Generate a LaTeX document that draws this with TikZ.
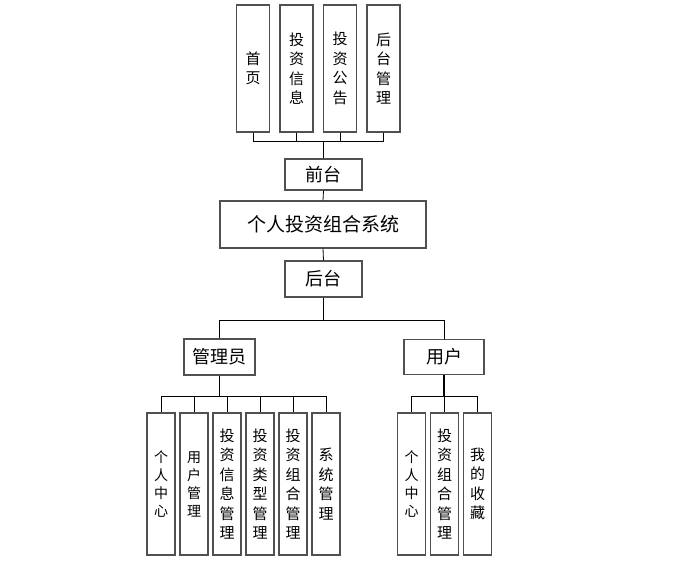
\documentclass[tikz,border=0pt]{standalone}
\usepackage{fontspec}
\newfontfamily\cjk{Noto Sans CJK SC}

\definecolor{BoxLine}{HTML}{505050}
\definecolor{Wire}{HTML}{000000}

\tikzstyle{box}=[draw=BoxLine, line width=1.1pt, inner sep=0pt, align=center]
\tikzstyle{vbox}=[box, font=\cjk\fontsize{15pt}{19.5pt}\selectfont]
\tikzstyle{vbox-small}=[box, font=\cjk\fontsize{14pt}{18pt}\selectfont]
\tikzstyle{hbox}=[box, font=\cjk\fontsize{18pt}{20pt}\selectfont]
\tikzstyle{wire}=[draw=Wire, line width=0.8pt]

\begin{document}
\begin{tikzpicture}[x=1pt, y=-1pt]
      \useasboundingbox (0,0) rectangle (680,564);

      % front end pages
      \node (nav-1) at (253,68.5) [vbox, minimum width=33pt, minimum height=127pt] {首\\页};
      \node (nav-2) at (296.5,68.5) [vbox, minimum width=33pt, minimum height=127pt] {投\\资\\信\\息};
      \node (nav-3) at (340,68.5) [vbox, minimum width=33pt, minimum height=127pt] {投\\资\\公\\告};
      \node (nav-4) at (383.5,68.5) [vbox, minimum width=33pt, minimum height=127pt] {后\\台\\管\\理};
      \coordinate (nav-bus) at (323.5,141);

      \node (front) at (323.5,174.5) [hbox, minimum width=77pt, minimum height=31pt] {前台};
      \node (system) at (323,224.5) [hbox, font=\cjk\fontsize{19pt}{20pt}\selectfont, minimum width=206pt, minimum height=47pt] {个人投资组合系统};
      \node (back) at (323.5,279) [hbox, minimum width=77pt, minimum height=36pt] {后台};
      \coordinate (back-bus) at (323.5,320);

      \node (admin) at (219.5,357) [hbox, minimum width=71pt, minimum height=36pt] {管理员};
      \node (user) at (444,357) [hbox, minimum width=80pt, minimum height=35pt] {用户};
      \coordinate (admin-bus) at (219.5,396);
      \coordinate (user-bus) at (444,396);

      % admin functions
      \node (admin-1) at (161,484) [vbox-small, minimum width=28pt, minimum height=142pt] {个\\人\\中\\心};
      \node (admin-2) at (194,484) [vbox-small, minimum width=28pt, minimum height=142pt] {用\\户\\管\\理};
      \node (admin-3) at (227,484) [vbox, minimum width=28pt, minimum height=142pt] {投\\资\\信\\息\\管\\理};
      \node (admin-4) at (260,484) [vbox, minimum width=28pt, minimum height=142pt] {投\\资\\类\\型\\管\\理};
      \node (admin-5) at (293,484) [vbox, minimum width=28pt, minimum height=142pt] {投\\资\\组\\合\\管\\理};
      \node (admin-6) at (326,484) [vbox, minimum width=28pt, minimum height=142pt] {系\\统\\管\\理};

      % user functions
      \node (user-1) at (411.5,484) [vbox-small, minimum width=28pt, minimum height=142pt] {个\\人\\中\\心};
      \node (user-2) at (444.5,484) [vbox, minimum width=28pt, minimum height=142pt] {投\\资\\组\\合\\管\\理};
      \node (user-3) at (477.5,484) [vbox, minimum width=28pt, minimum height=142pt] {我\\的\\收\\藏};

      \foreach \i in {1,...,4} \draw [wire] (nav-\i.south) |- (nav-bus);
      \draw [wire, line width=1.6pt] (nav-bus) -- (front.north);
      \draw [wire] (front.south) -- (system.north);
      \draw [wire] (system.south) -- (back.north);
      \draw [wire, line width=1.2pt] (back.south) -- (back-bus);
      \draw [wire] (back-bus) -| (admin.north);
      \draw [wire] (back-bus) -| (user.north);
      \draw [wire, line width=1.2pt] (admin.south) -- (admin-bus);
      \draw [wire, line width=1.2pt] (user.south) -- (user-bus);
      \foreach \i in {1,...,6} \draw [wire] (admin-bus) -| (admin-\i.north);
      \foreach \i in {1,...,3} \draw [wire] (user-bus) -| (user-\i.north);
    \end{tikzpicture}
\end{document}
